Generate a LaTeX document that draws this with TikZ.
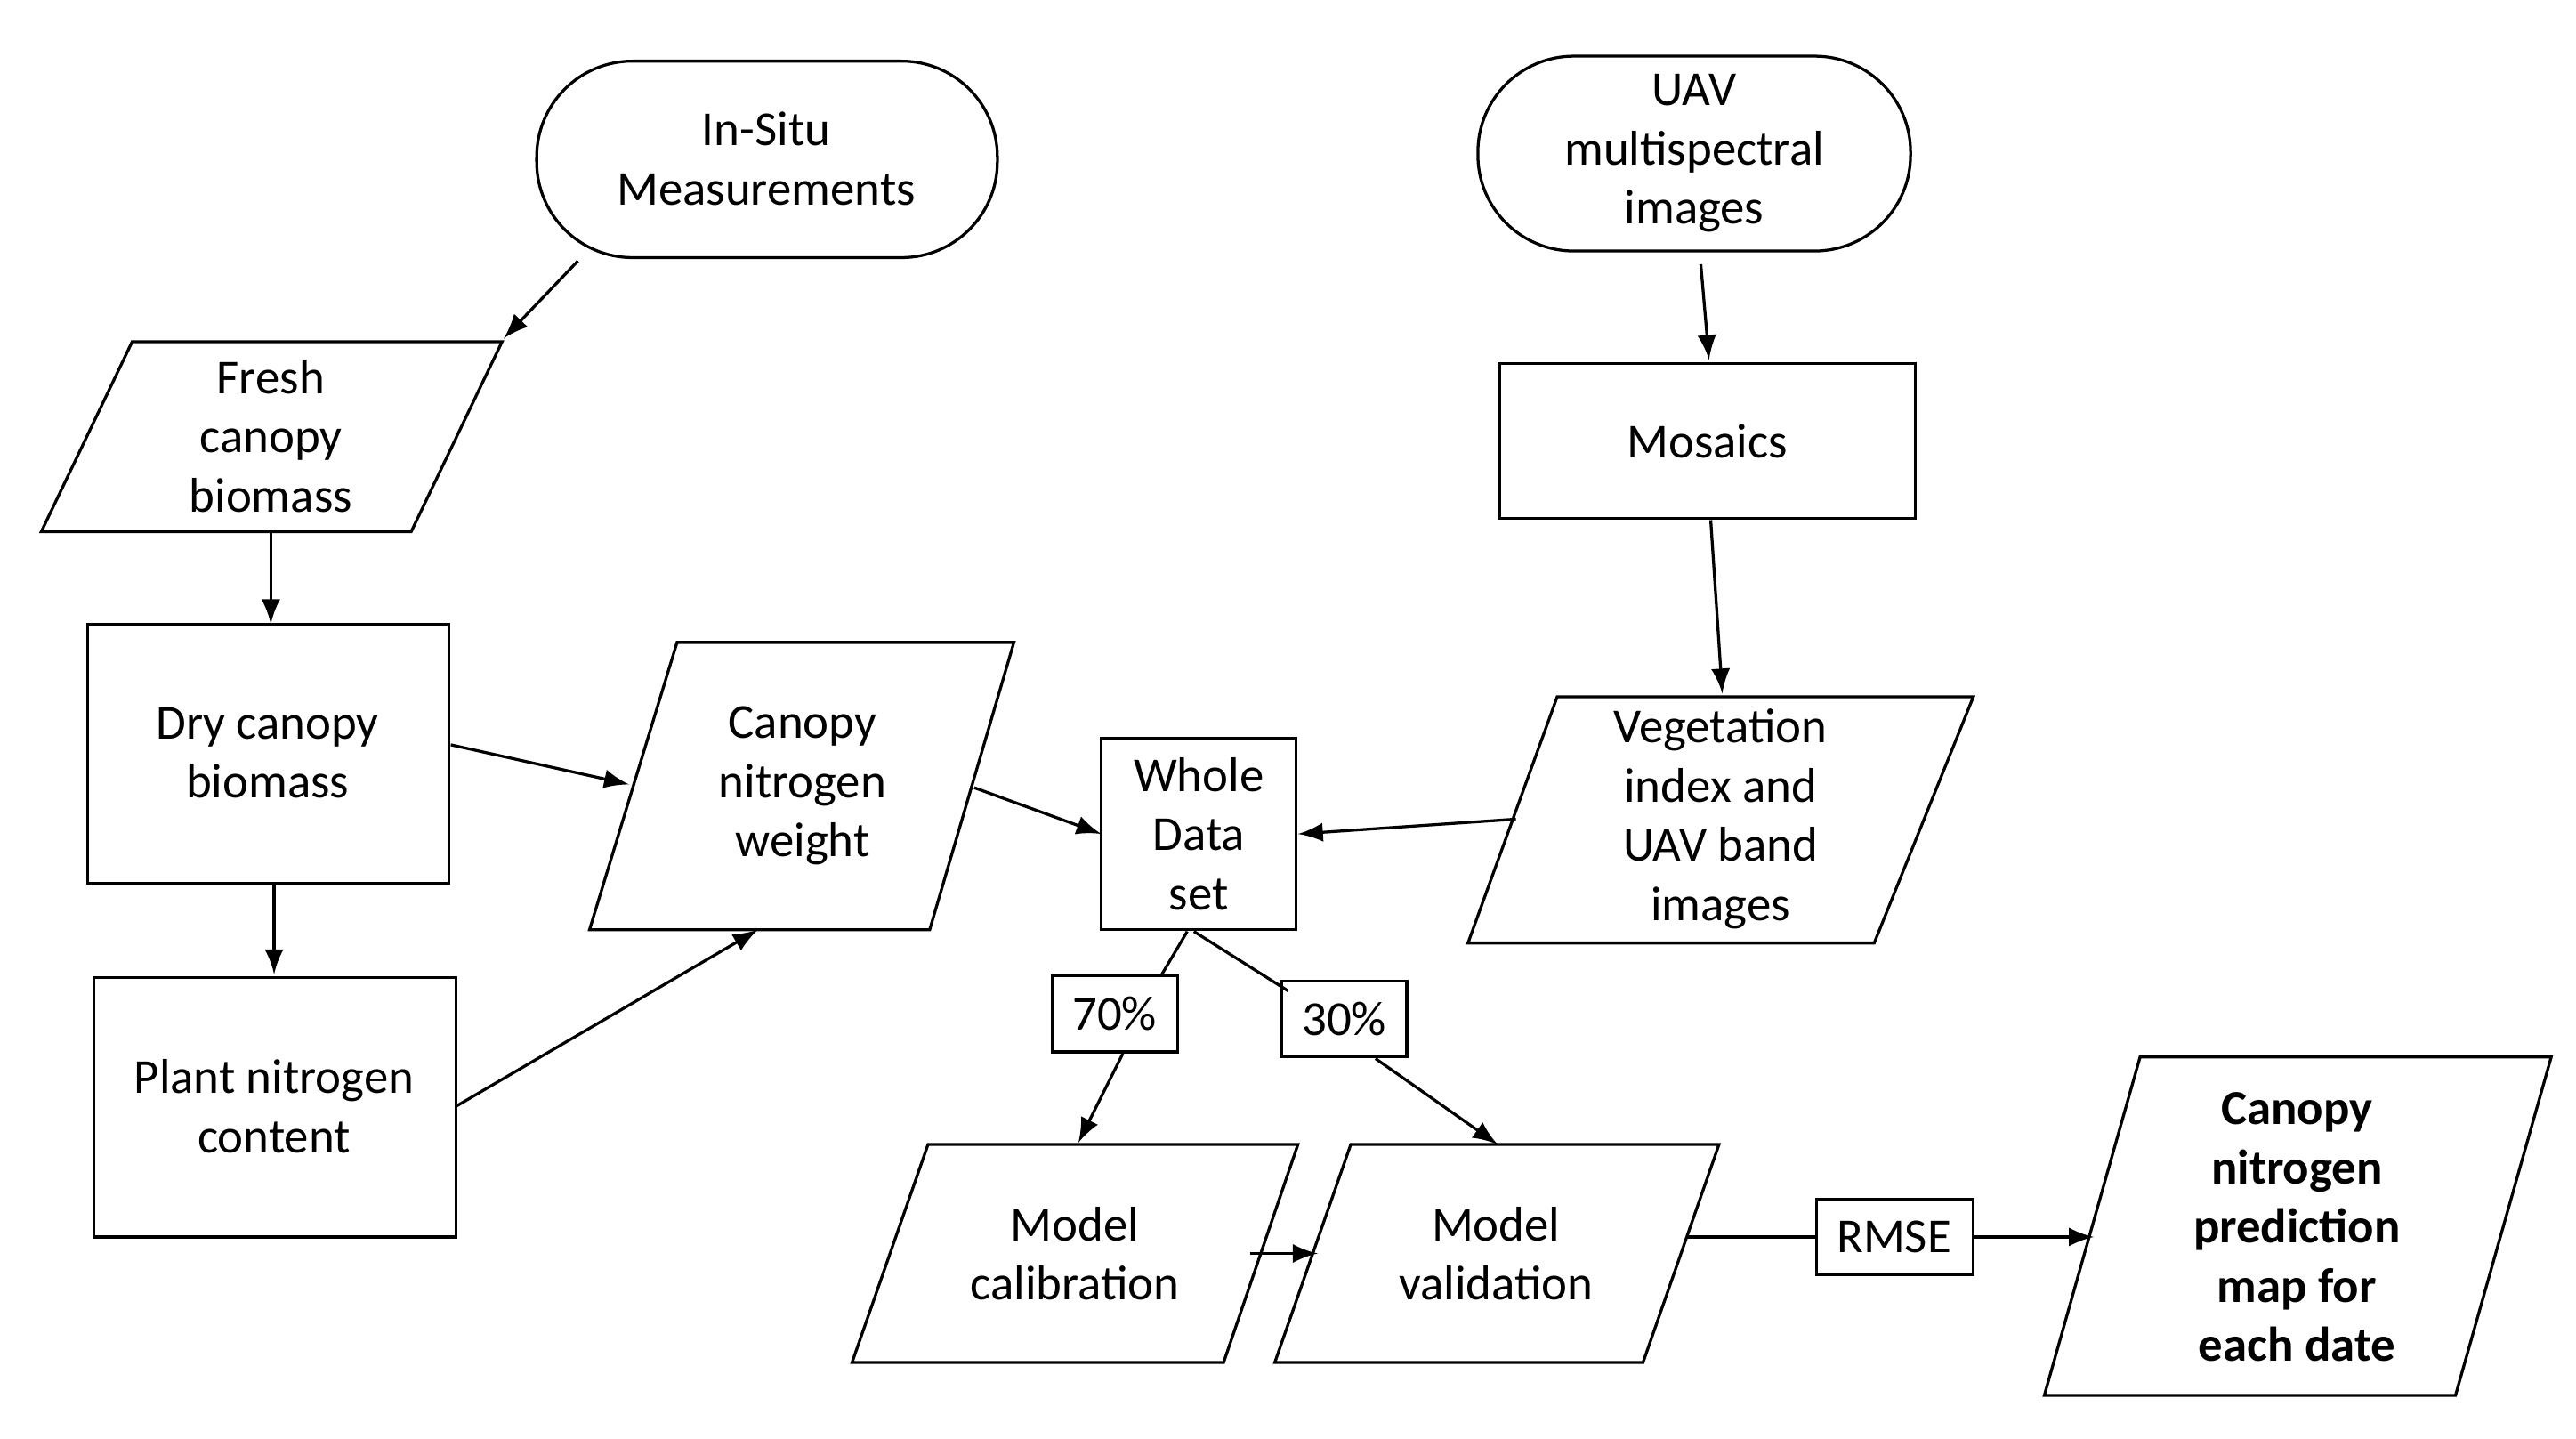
\documentclass[tikz,border=0pt]{standalone}
\usepackage{fontspec}
\setmainfont{Carlito}
\begin{document}
\begin{tikzpicture}[x=0.01cm,y=-0.01cm,
  shp/.style={draw=black,line width=0.5pt},
  txt/.style={align=center,font=\fontsize{8.4}{10.2}\selectfont},
  arr/.style={-latex,line width=0.5pt},
  ln/.style={line width=0.5pt}]
\useasboundingbox (0,0) rectangle (1560,871);
% terminals
\draw[shp,rounded corners=0.58cm] (325,37) rectangle (604,156);
\node[txt] (insitu) at (464,96) {In-Situ\\Measurements};
\draw[shp,rounded corners=0.58cm] (895,34) rectangle (1157,152);
\node[txt] (uav) at (1026,93) {UAV\\multispectral\\images};
% parallelograms
\draw[shp] (80,207) -- (304,207) -- (249,322) -- (25,322) -- cycle;
\node[txt] (fresh) at (164,264) {Fresh\\canopy\\biomass};
\draw[shp] (410,389) -- (614,389) -- (563,563) -- (357,563) -- cycle;
\node[txt] (cnw) at (486,476) {Canopy\\nitrogen\\weight};
\draw[shp] (943,422) -- (1195,422) -- (1135,571) -- (889,571) -- cycle;
\node[txt] (veg) at (1042,496) {Vegetation\\index and\\UAV band\\images};
\draw[shp] (562,693) -- (786,693) -- (741,825) -- (516,825) -- cycle;
\node[txt] (cal) at (651,759) {Model\\calibration};
\draw[shp] (818,693) -- (1041,693) -- (995,825) -- (772,825) -- cycle;
\node[txt] (val) at (906,759) {Model\\validation};
\draw[shp] (1296,640) -- (1545,640) -- (1487,845) -- (1238,845) -- cycle;
\node[txt,font=\fontsize{8.4}{10.2}\selectfont\bfseries] (pred) at (1391,743) {Canopy\\nitrogen\\prediction\\map for\\each date};
% rectangles
\draw[shp] (53,378) rectangle (272,535);
\node[txt] (dry) at (162,456) {Dry canopy\\biomass};
\draw[shp] (57,592) rectangle (276,749);
\node[txt] (plant) at (166,670) {Plant nitrogen\\content};
\draw[shp] (667,447) rectangle (785,563);
\node[txt] (whole) at (726,505) {Whole\\Data\\set};
\draw[shp] (908,220) rectangle (1160,314);
\node[txt] (mos) at (1034,267) {Mosaics};
\draw[shp] (637,591) rectangle (713,637);
\node[txt] (p70) at (675,614) {70\%};
\draw[shp] (776,594) rectangle (852,640);
\node[txt] (p30) at (814,617) {30\%};
\draw[shp] (1100,726) rectangle (1195,772);
\node[txt] (rmse) at (1147,749) {RMSE};
% connector endpoints
\coordinate (a1) at (350,158); \coordinate (a2) at (305,205);
\coordinate (b1) at (1030,160); \coordinate (b2) at (1035,218);
\coordinate (c1) at (164,322); \coordinate (c2) at (164,378);
\coordinate (d1) at (166,535); \coordinate (d2) at (166,590);
\coordinate (e1) at (273,451); \coordinate (e2) at (381,475);
\coordinate (f1) at (276,670); \coordinate (f2) at (459,563);
\coordinate (g1) at (590,477); \coordinate (g2) at (667,505);
\coordinate (h1) at (1036,315); \coordinate (h2) at (1043,420);
\coordinate (i1) at (918,496); \coordinate (i2) at (786,505);
\coordinate (j1) at (719,564); \coordinate (j2) at (703,591);
\coordinate (k1) at (680,638); \coordinate (k2) at (653,692);
\coordinate (l1) at (723,564); \coordinate (l2) at (780,600);
\coordinate (m1) at (833,641); \coordinate (m2) at (907,693);
\coordinate (n1) at (757,759); \coordinate (n2) at (798,759);
\coordinate (o1) at (1022,749); \coordinate (o2) at (1100,749);
\coordinate (q1) at (1195,749); \coordinate (q2) at (1268,749);
\draw[arr] (a1) -- (a2);
\draw[arr] (b1) -- (b2);
\draw[arr] (c1) -- (c2);
\draw[arr] (d1) -- (d2);
\draw[arr] (e1) -- (e2);
\draw[arr] (f1) -- (f2);
\draw[arr] (g1) -- (g2);
\draw[arr] (h1) -- (h2);
\draw[arr] (i1) -- (i2);
\draw[ln] (j1) -- (j2);
\draw[arr] (k1) -- (k2);
\draw[ln] (l1) -- (l2);
\draw[arr] (m1) -- (m2);
\draw[arr] (n1) -- (n2);
\draw[ln] (o1) -- (o2);
\draw[arr] (q1) -- (q2);
\end{tikzpicture}
\end{document}
